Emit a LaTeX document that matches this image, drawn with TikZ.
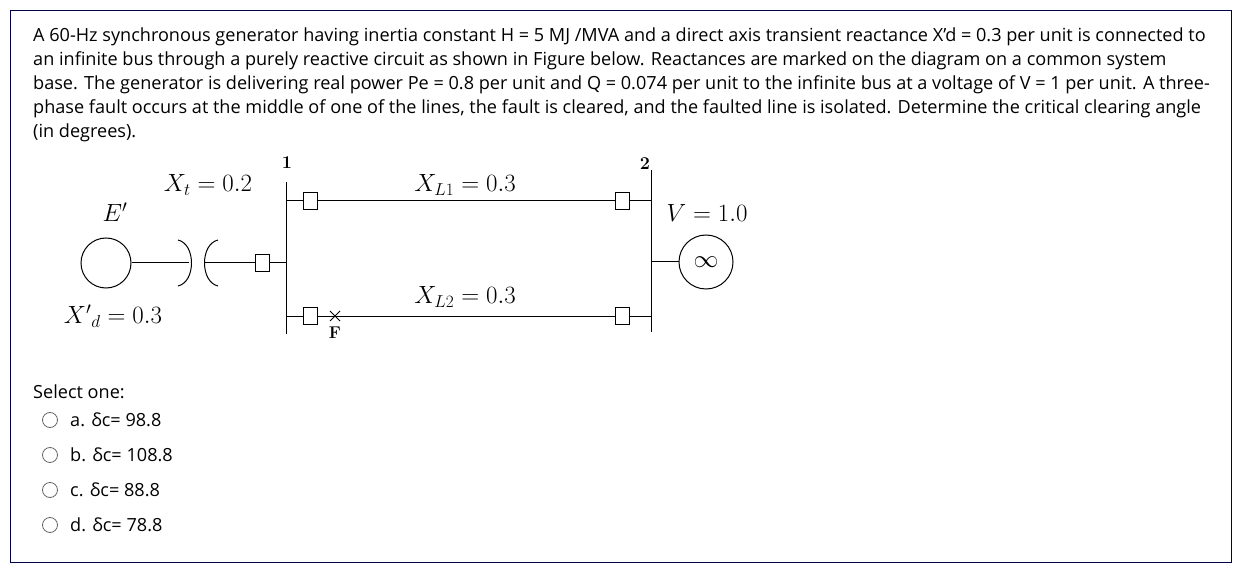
\documentclass[tikz,border=0pt]{standalone}
\usepackage{fontspec}
\usetikzlibrary{calc}
\setmainfont{Open Sans}
\newfontfamily\lmr{Latin Modern Roman}
\begin{document}
\begin{tikzpicture}[x=1pt,y=-1pt,
  txt/.style={anchor=base west,inner sep=0,font=\fontsize{18.1}{20}\selectfont},
  ckt/.style={inner sep=0,font=\fontsize{24}{26}\selectfont},
  brk/.style={draw,fill=white,minimum width=14pt,minimum height=17pt,inner sep=0,line width=1pt},
  wire/.style={line width=1pt}]
\useasboundingbox (0,0) rectangle (1240,564);
\draw[draw=black!70!blue, line width=0.8pt] (10,10) rectangle (1231,562);
\node[txt] (t1) at (33,42) {A 60-Hz synchronous generator having inertia constant H = 5 MJ /MVA and a direct axis transient reactance X’d = 0.3 per unit is connected to};
\node[txt] (t2) at (33,66) {an infinite bus through a purely reactive circuit as shown in Figure below. Reactances are marked on the diagram on a common system};
\node[txt] (t3) at (33,90) {base. The generator is delivering real power Pe = 0.8 per unit and Q = 0.074 per unit to the infinite bus at a voltage of V = 1 per unit. A three-};
\node[txt] (t4) at (33,114) {phase fault occurs at the middle of one of the lines, the fault is cleared, and the faulted line is isolated. Determine the critical clearing angle};
\node[txt] (t5) at (33,138) {(in degrees).};
% buses
\coordinate (b1t) at (286,182); \coordinate (b1b) at (286,334);
\coordinate (b2t) at (651,170); \coordinate (b2b) at (651,332);
\draw[wire] (b1t) -- (b1b); \draw[wire] (b2t) -- (b2b);
\node[ckt,font=\fontsize{18}{20}\selectfont] (n1) at (287,163) {\lmr\bfseries 1};
\node[ckt,font=\fontsize{18}{20}\selectfont] (n2) at (645,164) {\lmr\bfseries 2};
% lines
\node[brk] (k1) at (310,201) {}; \node[brk] (k2) at (622,201) {};
\node[brk] (k3) at (310,316) {}; \node[brk] (k4) at (622,316) {};
\draw[wire] (286,201) -- (k1) -- (k2) -- (651,201);
\draw[wire] (286,316) -- (k3) -- (k4) -- (651,316);
\node[ckt] (xl1) at (465,185) {\lmr $X_{L1} = 0.3$};
\node[ckt] (xl2) at (465,297) {\lmr $X_{L2} = 0.3$};
% fault
\coordinate (f) at (335,316);
\draw[line width=0.8pt] ($(f)+(-5,-5)$) -- ($(f)+(5,5)$) ($(f)+(-5,5)$) -- ($(f)+(5,-5)$);
\node[ckt,font=\fontsize{17}{18}\selectfont] (fl) at (335,333) {\lmr\bfseries F};
% generator
\node[draw,circle,minimum size=50pt,inner sep=0,line width=1pt] (g) at (106,263) {};
\node[ckt] (ep) at (115,212) {\lmr $E'$};
\node[ckt] (xd) at (113,316) {\lmr $X'{}_d = 0.3$};
\coordinate (tl) at (189,263); \coordinate (tr) at (205,263);
\draw[wire] (g) -- (tl);
\draw[wire] (178,240) .. controls (196,244) and (196,282) .. (178,286);
\draw[wire] (218,240) .. controls (200,244) and (200,282) .. (218,286);
\node[brk] (k0) at (262,263) {};
\draw[wire] (tr) -- (k0) -- (286,263);
\node[ckt] (xt) at (208,185) {\lmr $X_t = 0.2$};
% infinite bus
\node[draw,circle,minimum size=54pt,inner sep=0,line width=1pt] (ib) at (706,262) {\fontsize{24}{24}\selectfont\lmr $\infty$};
\draw[wire] (651,262) -- (ib);
\node[ckt] (vv) at (707,213) {\lmr $V = 1.0$};
% options
\node[txt] (s) at (33,398) {Select one:};
\foreach \y/\t in {426/a. δc= 98.8, 461/b. δc= 108.8, 496/c. δc= 88.8, 531/d. δc= 78.8}{
  \draw[black!60, line width=0.8pt] (50,\y-6) circle (7.5);
  \node[txt] at (70,\y) {\t};
}
\end{tikzpicture}
\end{document}
